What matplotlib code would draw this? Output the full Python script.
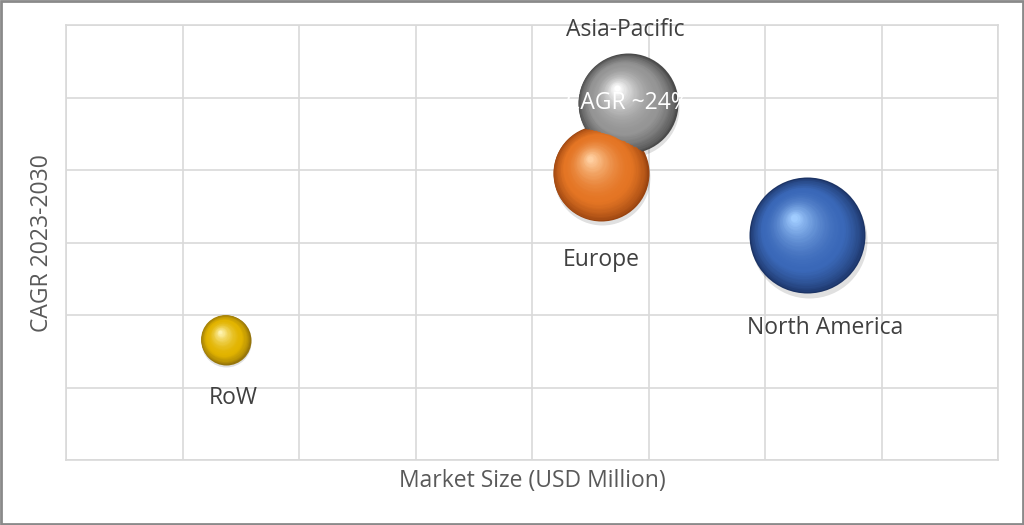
import numpy as np
import matplotlib.pyplot as plt
from matplotlib.colors import to_rgb
from matplotlib.transforms import offset_copy
from matplotlib.patches import Rectangle

plt.rcParams["font.family"] = ["Open Sans", "DejaVu Sans"]

regions = ["RoW", "Europe", "Asia-Pacific", "North America"]
market_size = [1.37, 4.59, 4.82, 6.36]
cagr = [1.66, 3.96, 4.92, 3.10]
bubble_radius = [25, 48, 50, 58]   # pixels
base_colors = ["#E2B400", "#E47524", "#959595", "#3A68B8"]
dark_colors = ["#96750A", "#9A4410", "#4A4A4A", "#1C3466"]
light_colors = ["#FFF4B0", "#FFCFA0", "#FFFFFF", "#A0CCFF"]
label_offsets = [(8, -58), (1, -87), (-2, 73), (18, -93)]  # pixels from bubble centre

DPI = 100
fig = plt.figure(figsize=(10.24, 5.25), dpi=DPI)
ax = fig.add_axes([66 / 1024, 1 - 460 / 525, (998 - 66) / 1024, (460 - 25) / 525])
ax.set_xlim(0, 8)
ax.set_ylim(0, 6)
ax.set_xticks(range(9))
ax.set_yticks(range(7))
ax.tick_params(length=0, labelbottom=False, labelleft=False)
ax.grid(True, color="#d9d9d9", linewidth=1.2)
for sp in ax.spines.values():
    sp.set_color("#d9d9d9")
    sp.set_linewidth(1.2)
ax.set_axisbelow(True)


def mix(c1, c2, t):
    a = np.array(to_rgb(c1))
    b = np.array(to_rgb(c2))
    return tuple(a + (b - a) * t)


def px2pt(v):
    return v * 72 / DPI


for x, y, r, base, dark, light in zip(market_size, cagr, bubble_radius,
                                       base_colors, dark_colors, light_colors):
    # soft shadow
    tr = offset_copy(ax.transData, fig=fig, x=px2pt(r * 0.03), y=px2pt(-r * 0.08), units="points")
    ax.scatter([x], [y], s=(2 * px2pt(r * 1.0)) ** 2, color="#000000", alpha=0.12,
               linewidths=0, transform=tr, zorder=2)
    n = 40
    for i in range(n):
        t = i / (n - 1)
        rr = r * (1 - 0.94 * t)
        dx = -0.22 * r * t
        dy = 0.30 * r * t
        if t < 0.3:
            col = mix(dark, base, (t / 0.3) ** 0.7)
        else:
            col = mix(base, light, ((t - 0.3) / 0.7) ** 1.8)
        tr = offset_copy(ax.transData, fig=fig, x=px2pt(dx), y=px2pt(dy), units="points")
        ax.scatter([x], [y], s=(2 * px2pt(rr)) ** 2, color=col, linewidths=0,
                   transform=tr, zorder=3 + i * 0.01)

for name, x, y, (ox, oy) in zip(regions, market_size, cagr, label_offsets):
    tr = offset_copy(ax.transData, fig=fig, x=px2pt(ox), y=px2pt(oy), units="points")
    ax.text(x, y, name, transform=tr, ha="center", va="center", fontsize=16.5,
            color="#404040", zorder=10)

ap = regions.index("Asia-Pacific")
ax.text(market_size[ap], cagr[ap], "CAGR ~24%", ha="center", va="center", fontsize=16.5,
        color="white", zorder=10)

fig.text(42 / 1024, 1 - 243 / 525, "CAGR 2023-2030", rotation=90, ha="center", va="center",
         fontsize=16.5, color="#595959")
fig.text(532 / 1024, 1 - 481 / 525, "Market Size (USD Million)", ha="center", va="center",
         fontsize=16.5, color="#595959")

fig.add_artist(Rectangle((0.001, 0.002), 0.998, 0.996, transform=fig.transFigure,
                         fill=False, edgecolor="#8a8a8a", linewidth=2))

fig.savefig("out.png", dpi=DPI)
